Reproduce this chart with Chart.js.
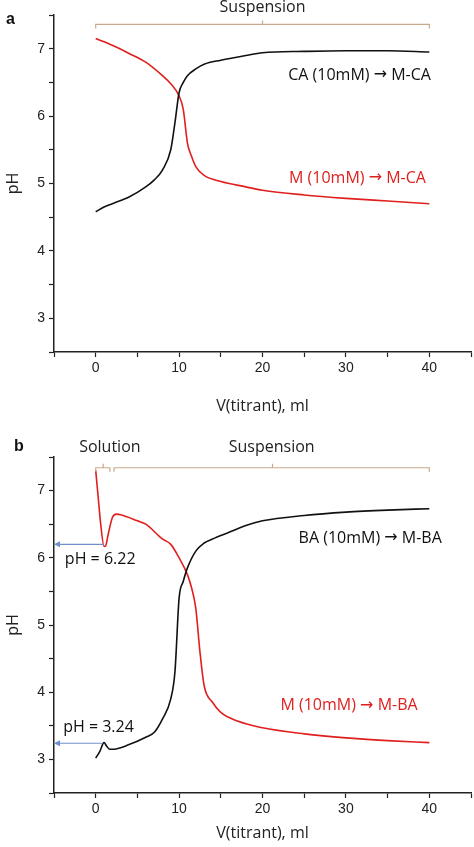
<!DOCTYPE html>
<html><head><meta charset="utf-8">
<script src="https://cdn.jsdelivr.net/npm/chart.js@4"></script>
<style>body{margin:0;background:#fff}#wa{position:absolute;left:0;top:0;width:474px;height:420px}#wb{position:absolute;left:0;top:420px;width:474px;height:427px}</style>
</head><body>
<div id="wa"><canvas id="ca"></canvas></div>
<div id="wb"><canvas id="cb"></canvas></div>
<script>
const xTicks=[0,10,20,30,40];
const yTicks=[3,4,5,6,7];
const aBlackX=[0,1,2,4,6,7,8,9,9.5,10,10.5,11,12,13,15,18,20,25,30,35,40];
const aBlackY=[4.58,4.65,4.7,4.8,4.95,5.05,5.2,5.5,5.9,6.35,6.5,6.6,6.7,6.77,6.83,6.9,6.94,6.96,6.97,6.97,6.95];
const aRedX=[0,2,4,6,8,9,10,10.5,11,11.5,12,13,15,18,20,25,30,35,40];
const aRedY=[7.15,7.05,6.93,6.8,6.6,6.48,6.3,6.1,5.6,5.4,5.25,5.12,5.03,4.95,4.9,4.83,4.78,4.74,4.7];
const bBlackX=[0,0.5,1,1.3,1.7,2,4,6,7,8,9,9.5,10,10.5,11,12,13,14,16,18,20,25,30,35,40];
const bBlackY=[3.02,3.12,3.25,3.2,3.15,3.15,3.22,3.33,3.4,3.6,3.9,4.3,5.4,5.65,5.85,6.1,6.22,6.28,6.38,6.48,6.55,6.63,6.68,6.71,6.73];
const bRedX=[0,0.3,0.6,1,1.2,1.5,2,2.5,3,5,6,8,9,10,11,11.5,12,12.5,13,14,15,17,20,25,30,35,40];
const bRedY=[7.3,6.9,6.5,6.17,6.18,6.35,6.6,6.65,6.64,6.55,6.5,6.28,6.2,6.0,5.75,5.55,5.25,4.6,4.1,3.85,3.7,3.57,3.47,3.38,3.32,3.28,3.25];
const pts=(xs,ys)=>xs.map((x,i)=>({x,y:ys[i]}));
const TAN='#c9a98c', BLUE='#6f8fc8', RED='#e0201e';
const FONT='"Open Sans"';

function ds(xs,ys,c){return{data:pts(xs,ys),borderColor:c,borderWidth:1.6,pointRadius:0,cubicInterpolationMode:'monotone',fill:false};}

function mkChart(id,datasets,padTop,xh,ann){
  new Chart(document.getElementById(id),{type:'line',data:{datasets},
    options:{responsive:true,maintainAspectRatio:false,animation:false,
      layout:{padding:{top:padTop,right:1,left:0,bottom:0}},
      plugins:{legend:{display:false},tooltip:{enabled:false}},
      scales:{
        x:{type:'linear',min:-5,max:45,afterFit:s=>{s.height=xh;},
          afterBuildTicks:s=>{s.ticks=[];for(let v=-5;v<=45;v+=5)s.ticks.push({value:v});},
          ticks:{color:'#222',font:{family:'Liberation Sans',size:14},padding:3,autoSkip:false,maxRotation:0,callback:v=>xTicks.includes(v)?v:''},
          grid:{display:true,drawOnChartArea:false,drawTicks:true,tickLength:5,tickColor:'#222',tickWidth:1.2},border:{color:'#222',width:1.5},
          title:{display:true,text:'V(titrant), ml',color:'#222',font:{family:FONT,size:16},padding:{top:2}}},
        y:{min:2.5,max:7.5,afterFit:s=>{s.width=54;},
          afterBuildTicks:s=>{s.ticks=[];for(let v=2.5;v<=7.5;v+=0.5)s.ticks.push({value:v});},
          ticks:{color:'#222',font:{family:'Liberation Sans',size:14},padding:4,autoSkip:false,callback:v=>yTicks.includes(v)?v:''},
          grid:{display:true,drawOnChartArea:false,drawTicks:true,tickLength:5,tickColor:'#222',tickWidth:1.2},border:{color:'#222',width:1.5},
          title:{display:true,text:'pH',color:'#222',font:{family:FONT,size:16},padding:{bottom:2}}}
      }},
    plugins:[{id:'ann',afterDatasetsDraw(ch){const c=ch.ctx,X=v=>ch.scales.x.getPixelForValue(v),Y=v=>ch.scales.y.getPixelForValue(v);c.save();ann(c,X,Y);c.restore();}}]
  });
}
function bracket(c,X,Y,x0,x1,xm,y){c.strokeStyle=TAN;c.lineWidth=1.2;c.beginPath();
  c.moveTo(X(x0),Y(y)+4);c.lineTo(X(x0),Y(y));c.lineTo(X(x1),Y(y));c.lineTo(X(x1),Y(y)+4);
  c.moveTo(X(xm),Y(y));c.lineTo(X(xm),Y(y)-4);c.stroke();}
function txt(c,s,x,y,col,align,font){c.fillStyle=col;c.textAlign=align;c.textBaseline='middle';c.font=font||('16px '+FONT);c.fillText(s,x,y);}
// label with arrow glyph drawn in DejaVu Sans, right-aligned at x
function arrLabel(c,a,b,x,y,col){const f1='16px '+FONT,f2='16px "DejaVu Sans"';
  c.font=f1;const wa=c.measureText(a+' ').width,wb=c.measureText(' '+b).width;c.font=f2;const wr=c.measureText('→').width;
  let left=x-(wa+wr+wb);c.fillStyle=col;c.textAlign='left';c.textBaseline='middle';
  c.font=f1;c.fillText(a+' ',left,y);c.font=f2;c.fillText('→',left+wa,y);c.font=f1;c.fillText(' '+b,left+wa+wr,y);}
function arrow(c,X,Y,x0,y){c.strokeStyle=BLUE;c.fillStyle=BLUE;c.lineWidth=1.2;const a=X(-5),b=X(x0),yy=Y(y);
  c.beginPath();c.moveTo(b,yy);c.lineTo(a+5,yy);c.stroke();c.beginPath();c.moveTo(a,yy);c.lineTo(a+6,yy-3);c.lineTo(a+6,yy+3);c.closePath();c.fill();}

mkChart('ca',[ds(aBlackX,aBlackY,'#111'),ds(aRedX,aRedY,RED)],15,68,(c,X,Y)=>{
  bracket(c,X,Y,0,40,20,7.36);
  txt(c,'Suspension',X(20),7,'#222','center');
  txt(c,'a',6,20,'#111','left','bold 16px "Liberation Sans"');
  arrLabel(c,'CA (10mM)','M-CA',X(40.2),Y(6.61),'#111');
  arrLabel(c,'M (10mM)','M-CA',X(39.6),Y(5.08),RED);
});
mkChart('cb',[ds(bBlackX,bBlackY,'#111'),ds(bRedX,bRedY,RED)],37,54,(c,X,Y)=>{
  bracket(c,X,Y,0,1.7,0.9,7.34);
  bracket(c,X,Y,2.2,40,21.2,7.34);
  txt(c,'Solution',X(1.7),27,'#222','center');
  txt(c,'Suspension',X(21.1),27,'#222','center');
  txt(c,'b',14,27,'#111','left','bold 16px "Liberation Sans"');
  arrow(c,X,Y,1,6.2);arrow(c,X,Y,0.8,3.24);
  txt(c,'pH = 6.22',X(-3.7),Y(5.98),'#111','left');
  txt(c,'pH = 3.24',X(-3.9),Y(3.48),'#111','left');
  arrLabel(c,'BA (10mM)','M-BA',X(41.5),Y(6.29),'#111');
  arrLabel(c,'M (10mM)','M-BA',X(38.6),Y(3.8),RED);
});
</script></body></html>
